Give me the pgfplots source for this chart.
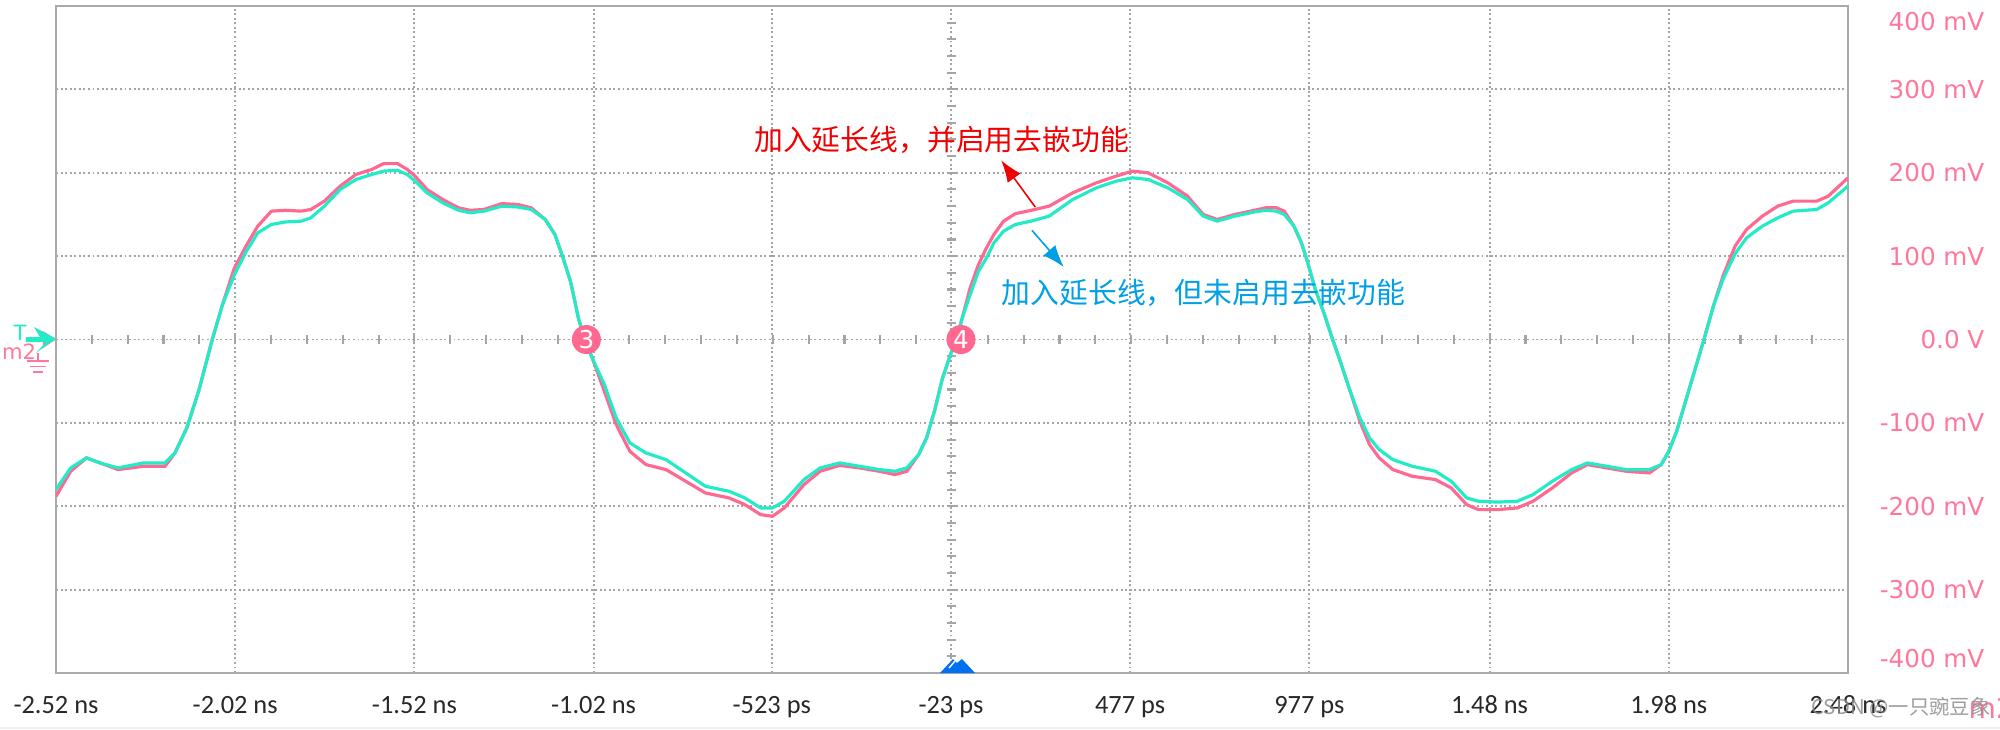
\documentclass[border=0pt]{standalone}
\usepackage{fontspec}
\setmainfont{Liberation Sans}
\newfontfamily\dejavu{DejaVu Sans}
\newfontfamily\carlito{Carlito}
\newfontfamily\cjk{Noto Sans CJK SC}
\usepackage{pgfplots}
\pgfplotsset{compat=1.18}
\usetikzlibrary{arrows.meta}
\definecolor{tracepink}{RGB}{255,105,145}
\definecolor{tracecyan}{RGB}{35,235,200}
\definecolor{scopepink}{RGB}{255,120,155}
\definecolor{gridgray}{RGB}{165,165,165}
\definecolor{framegray}{RGB}{170,170,170}
\definecolor{labelgray}{RGB}{40,40,40}
\definecolor{annred}{RGB}{240,0,0}
\definecolor{annblue}{RGB}{0,160,230}
\definecolor{trigblue}{RGB}{0,112,240}

% time in ns, voltage in mV
\pgfplotstableread{
t v
-2.52 -188
-2.479 -158
-2.435 -142
-2.397 -148
-2.347 -156
-2.276 -152
-2.216 -152
-2.188 -136
-2.155 -106
-2.122 -62
-2.084 0
-2.056 41
-2.023 85
-1.990 112
-1.957 136
-1.919 154
-1.880 155
-1.836 154
-1.809 156
-1.771 166
-1.727 184
-1.683 198
-1.639 204
-1.606 211
-1.567 211
-1.540 204
-1.518 196
-1.485 180
-1.441 168
-1.397 158
-1.364 155
-1.326 156
-1.276 163
-1.232 162
-1.194 158
-1.155 144
-1.128 126
-1.106 99
-1.084 69
-1.062 25
-1.045 0
-1.023 -23
-0.990 -62
-0.957 -102
-0.919 -134
-0.874 -150
-0.818 -156
-0.763 -170
-0.708 -184
-0.642 -190
-0.598 -198
-0.554 -210
-0.521 -212
-0.488 -202
-0.433 -174
-0.388 -158
-0.333 -151
-0.278 -154
-0.223 -158
-0.179 -162
-0.146 -158
-0.113 -138
-0.091 -118
-0.069 -86
-0.047 -47
-0.025 -19
-0.008 0
0.008 25
0.030 61
0.053 89
0.075 109
0.097 126
0.124 142
0.157 151
0.201 155
0.251 160
0.317 176
0.383 188
0.438 196
0.483 202
0.527 200
0.582 188
0.637 172
0.681 150
0.720 144
0.769 150
0.824 155
0.855 158
0.885 158
0.907 154
0.934 136
0.955 116
0.972 93
0.993 61
1.020 29
1.042 0
1.064 -27
1.091 -62
1.118 -98
1.145 -126
1.172 -142
1.210 -156
1.264 -164
1.329 -168
1.373 -178
1.416 -198
1.449 -204
1.503 -204
1.557 -202
1.601 -194
1.655 -178
1.709 -160
1.753 -150
1.807 -154
1.861 -158
1.926 -160
1.959 -150
1.980 -134
2.002 -110
2.024 -78
2.051 -39
2.078 0
2.105 41
2.132 77
2.165 112
2.197 132
2.241 148
2.284 160
2.327 166
2.393 166
2.425 172
2.48 194
}\deembedded

\pgfplotstableread{
t v
-2.52 -180
-2.479 -154
-2.435 -142
-2.397 -148
-2.347 -154
-2.276 -148
-2.216 -148
-2.188 -136
-2.155 -106
-2.122 -62
-2.084 0
-2.056 41
-2.023 77
-1.990 105
-1.957 128
-1.919 138
-1.880 141
-1.836 142
-1.809 146
-1.771 160
-1.727 180
-1.683 192
-1.639 198
-1.606 202
-1.567 203
-1.540 198
-1.518 190
-1.485 176
-1.441 164
-1.397 155
-1.364 152
-1.326 154
-1.276 160
-1.232 159
-1.194 156
-1.155 144
-1.128 126
-1.106 99
-1.084 69
-1.062 25
-1.045 0
-1.023 -23
-0.990 -54
-0.957 -94
-0.919 -124
-0.874 -136
-0.818 -144
-0.763 -160
-0.708 -176
-0.642 -182
-0.598 -190
-0.554 -202
-0.521 -202
-0.488 -194
-0.433 -168
-0.388 -154
-0.333 -148
-0.278 -152
-0.223 -156
-0.179 -158
-0.146 -154
-0.113 -138
-0.091 -118
-0.069 -86
-0.047 -47
-0.025 -19
-0.008 0
0.008 25
0.030 53
0.053 81
0.075 97
0.097 116
0.124 130
0.157 138
0.201 142
0.251 148
0.317 168
0.383 182
0.438 190
0.483 194
0.527 192
0.582 182
0.637 168
0.681 148
0.720 142
0.769 148
0.824 153
0.855 155
0.885 154
0.907 150
0.934 136
0.955 116
0.972 93
0.993 61
1.020 29
1.042 0
1.064 -27
1.091 -62
1.118 -94
1.145 -118
1.172 -132
1.210 -144
1.264 -152
1.329 -158
1.373 -170
1.416 -190
1.449 -194
1.503 -195
1.557 -194
1.601 -186
1.655 -170
1.709 -156
1.753 -148
1.807 -152
1.861 -156
1.926 -156
1.959 -150
1.980 -134
2.002 -110
2.024 -78
2.051 -39
2.078 0
2.105 41
2.132 73
2.165 103
2.197 122
2.241 136
2.284 146
2.327 154
2.393 156
2.425 164
2.48 184
}\nodeembed

\begin{document}
\begin{tikzpicture}
\useasboundingbox[fill=white] (-0.56,-0.56) rectangle (19.44,6.73);
\fill[black!6] (-0.56,-0.56) rectangle (19.44,-0.535);
% crosshair minor ticks (axis box is 17.92cm x 6.67cm at the origin)
\foreach \i in {1,...,49} {
  \draw[gridgray, line width=0.6pt] (\i*0.3584,3.29) -- (\i*0.3584,3.38);
}
\foreach \j in {1,...,39} {
  \draw[gridgray, line width=0.6pt] (8.905,\j*0.16675) -- (8.995,\j*0.16675);
}
\begin{axis}[
  at={(0,0)}, anchor=south west,
  scale only axis, width=17.92cm, height=6.67cm,
  xmin=-2.52, xmax=2.48, ymin=-400, ymax=400,
  xtick={-2.52,-2.02,-1.52,-1.02,-0.523,-0.023,0.477,0.977,1.48,1.98,2.48},
  xticklabels={-2.52 ns,-2.02 ns,-1.52 ns,-1.02 ns,-523 ps,-23 ps,477 ps,977 ps,1.48 ns,1.98 ns,2.48 ns},
  ytick={-300,-200,-100,0,100,200,300},
  yticklabels={-300 mV,-200 mV,-100 mV,0.0 V,100 mV,200 mV,300 mV},
  yticklabel pos=right,
  major tick length=0pt,
  grid=major,
  major grid style={dash pattern=on 0.55pt off 0.75pt, line width=0.55pt, color=gridgray},
  axis line style={framegray, line width=0.7pt},
  xticklabel style={font=\carlito\fontsize{7.5}{9}\selectfont, text=labelgray, anchor=base, yshift=-0.40cm},
  yticklabel style={font=\dejavu\fontsize{7}{8}\selectfont, text=scopepink, anchor=east, inner sep=0pt, xshift=1.37cm},
]
\addplot[tracepink, line width=0.9pt] table[x=t, y=v] {\deembedded};
\addplot[tracecyan, line width=0.9pt] table[x=t, y=v] {\nodeembed};
% cursor markers
\fill[tracepink] (axis cs:-1.04,0) circle[radius=0.145cm];
\node[text=white, font=\dejavu\fontsize{7}{8}\selectfont] at (axis cs:-1.04,0) {3};
\fill[tracepink] (axis cs:0.005,0) circle[radius=0.145cm];
\node[text=white, font=\dejavu\fontsize{7}{8}\selectfont] at (axis cs:0.005,0) {4};
% annotations
\node[text=annred, font=\cjk\fontsize{8.2}{10}\selectfont] at (axis cs:-0.049,240) {加入延长线，并启用去嵌功能};
\draw[annred, line width=0.45pt, -{Latex[length=2.2mm, width=1.6mm]}] (axis cs:0.212,159) -- (axis cs:0.117,215);
\node[text=annblue, font=\cjk\fontsize{8.2}{10}\selectfont] at (axis cs:0.682,56) {加入延长线，但未启用去嵌功能};
\draw[annblue, line width=0.45pt, -{Latex[length=2.2mm, width=1.6mm]}] (axis cs:0.203,131) -- (axis cs:0.292,87);
\end{axis}
% y labels at the frame edges, pulled inside the picture
\node[anchor=east, inner sep=0pt, text=scopepink, font=\dejavu\fontsize{7}{8}\selectfont] at (19.29,6.51) {400 mV};
\node[anchor=east, inner sep=0pt, text=scopepink, font=\dejavu\fontsize{7}{8}\selectfont] at (19.29,0.14) {-400 mV};
% trigger level marker on the left
\fill[scopepink] (0.0,3.335) -- (-0.13,3.42) -- (-0.13,3.25) -- cycle;
\fill[tracecyan] (0.0,3.345) -- (-0.22,3.46) -- (-0.16,3.36) -- (-0.30,3.36) -- (-0.30,3.31) -- (-0.10,3.31) -- (-0.20,3.20) -- cycle;
\node[text=tracecyan, font=\dejavu\fontsize{6}{7}\selectfont, inner sep=0pt] at (-0.36,3.40) {T};
\node[text=scopepink, font=\dejavu\fontsize{6}{7}\selectfont, inner sep=0pt] at (-0.37,3.21) {m2};
\draw[scopepink, line width=0.5pt] (-0.18,3.20) -- (-0.18,3.12);
\draw[scopepink, line width=0.5pt] (-0.29,3.12) -- (-0.07,3.12);
\draw[scopepink, line width=0.5pt] (-0.26,3.065) -- (-0.10,3.065);
\draw[scopepink, line width=0.5pt] (-0.23,3.01) -- (-0.13,3.01);
% trigger position marker at the bottom
\fill[trigblue] (8.84,0) -- (8.97,0.14) -- (9.01,0.10) -- (9.06,0.14) -- (9.19,0) -- cycle;
\draw[white, line width=0.4pt] (8.93,0.05) -- (8.99,0.12);
% bottom right corner
\node[anchor=west, inner sep=0pt, text=scopepink, font=\dejavu\fontsize{8}{9}\selectfont] at (19.12,-0.35) {m2};
\node[inner sep=0pt, text=black!45, opacity=0.85, font=\cjk\fontsize{5.8}{7}\selectfont] at (18.45,-0.35) {CSDN @一只豌豆象};
\end{tikzpicture}
\end{document}
